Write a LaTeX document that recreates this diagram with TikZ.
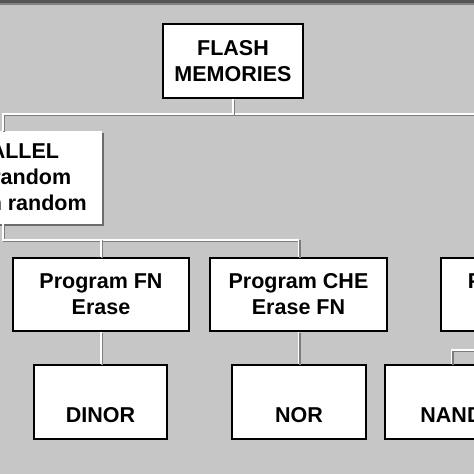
\documentclass[tikz,border=0pt]{standalone}
\usepackage{fontspec}
\setmainfont{Liberation Sans}
\usetikzlibrary{shadows}
\definecolor{bg}{RGB}{198,198,198}
\definecolor{topband}{RGB}{85,85,85}
\definecolor{shade}{RGB}{125,125,125}
\begin{document}
\begin{tikzpicture}[x=1pt,y=-1pt,
  every node/.style={font=\fontsize{21.5}{26}\selectfont\bfseries, align=center, inner sep=0pt},
  boxed/.style={rectangle, draw=black, line width=1.7pt, fill=white,
     drop shadow={shadow xshift=1.2pt, shadow yshift=-1.2pt, fill=black, opacity=.35}},
  softbox/.style={rectangle, fill=white,
     drop shadow={shadow xshift=1.5pt, shadow yshift=-1.5pt, fill=black, opacity=.45}},
  conn/.style={draw=white, line width=1.8pt,
     preaction={draw=shade, line width=2.2pt, transform canvas={shift={(1.3pt,-1.3pt)}}}}
]
\useasboundingbox (0,0) rectangle (474,474);
\fill[bg] (0,0) rectangle (474,474);
\fill[topband] (0,0) rectangle (474,3);
\fill[topband!60!bg] (0,3) rectangle (474,5);

% junctions and free ends
\coordinate (b1) at (3,114);
\coordinate (e1) at (476,114);
\coordinate (b2) at (3,240);
\coordinate (e3) at (476,350);

\node[softbox, minimum width=199pt, minimum height=93pt] (par) at (2.5,177.5) {PARALLEL\\Read random\\Erase in random};
\node[boxed, minimum width=140pt, minimum height=74pt] (flash) at (233,61) {FLASH\\MEMORIES};
\node[boxed, minimum width=176pt, minimum height=73pt] (pfn) at (101,294.5) {Program FN\\Erase};
\node[boxed, minimum width=177pt, minimum height=73pt] (pche) at (298.5,294.5) {Program CHE\\Erase FN};
\node[boxed, minimum width=177pt, minimum height=73pt] (pff) at (529.5,294.5) {Program FN\\Erase FN};
\node[boxed, minimum width=133pt, minimum height=74pt] (dinor) at (100.5,402) {\vphantom{P}\\DINOR};
\node[boxed, minimum width=134pt, minimum height=74pt] (nor) at (299,402) {\vphantom{P}\\NOR};
\node[boxed, minimum width=133pt, minimum height=74pt] (nand) at (451.5,402) {\vphantom{P}\\NAND};

\draw[conn] (flash.south) |- (e1);
\draw[conn] (flash.south) |- (b1) -- (b1 |- par.north);
\draw[conn] (b1 |- par.south) -- (b2) -| (pche.north);
\draw[conn] (b2) -| (pfn.north);
\draw[conn] (pfn.south) -- (pfn.south |- dinor.north);
\draw[conn] (pche.south) -- (pche.south |- nor.north);
\draw[conn] (nand.north) |- (e3);
\end{tikzpicture}
\end{document}
